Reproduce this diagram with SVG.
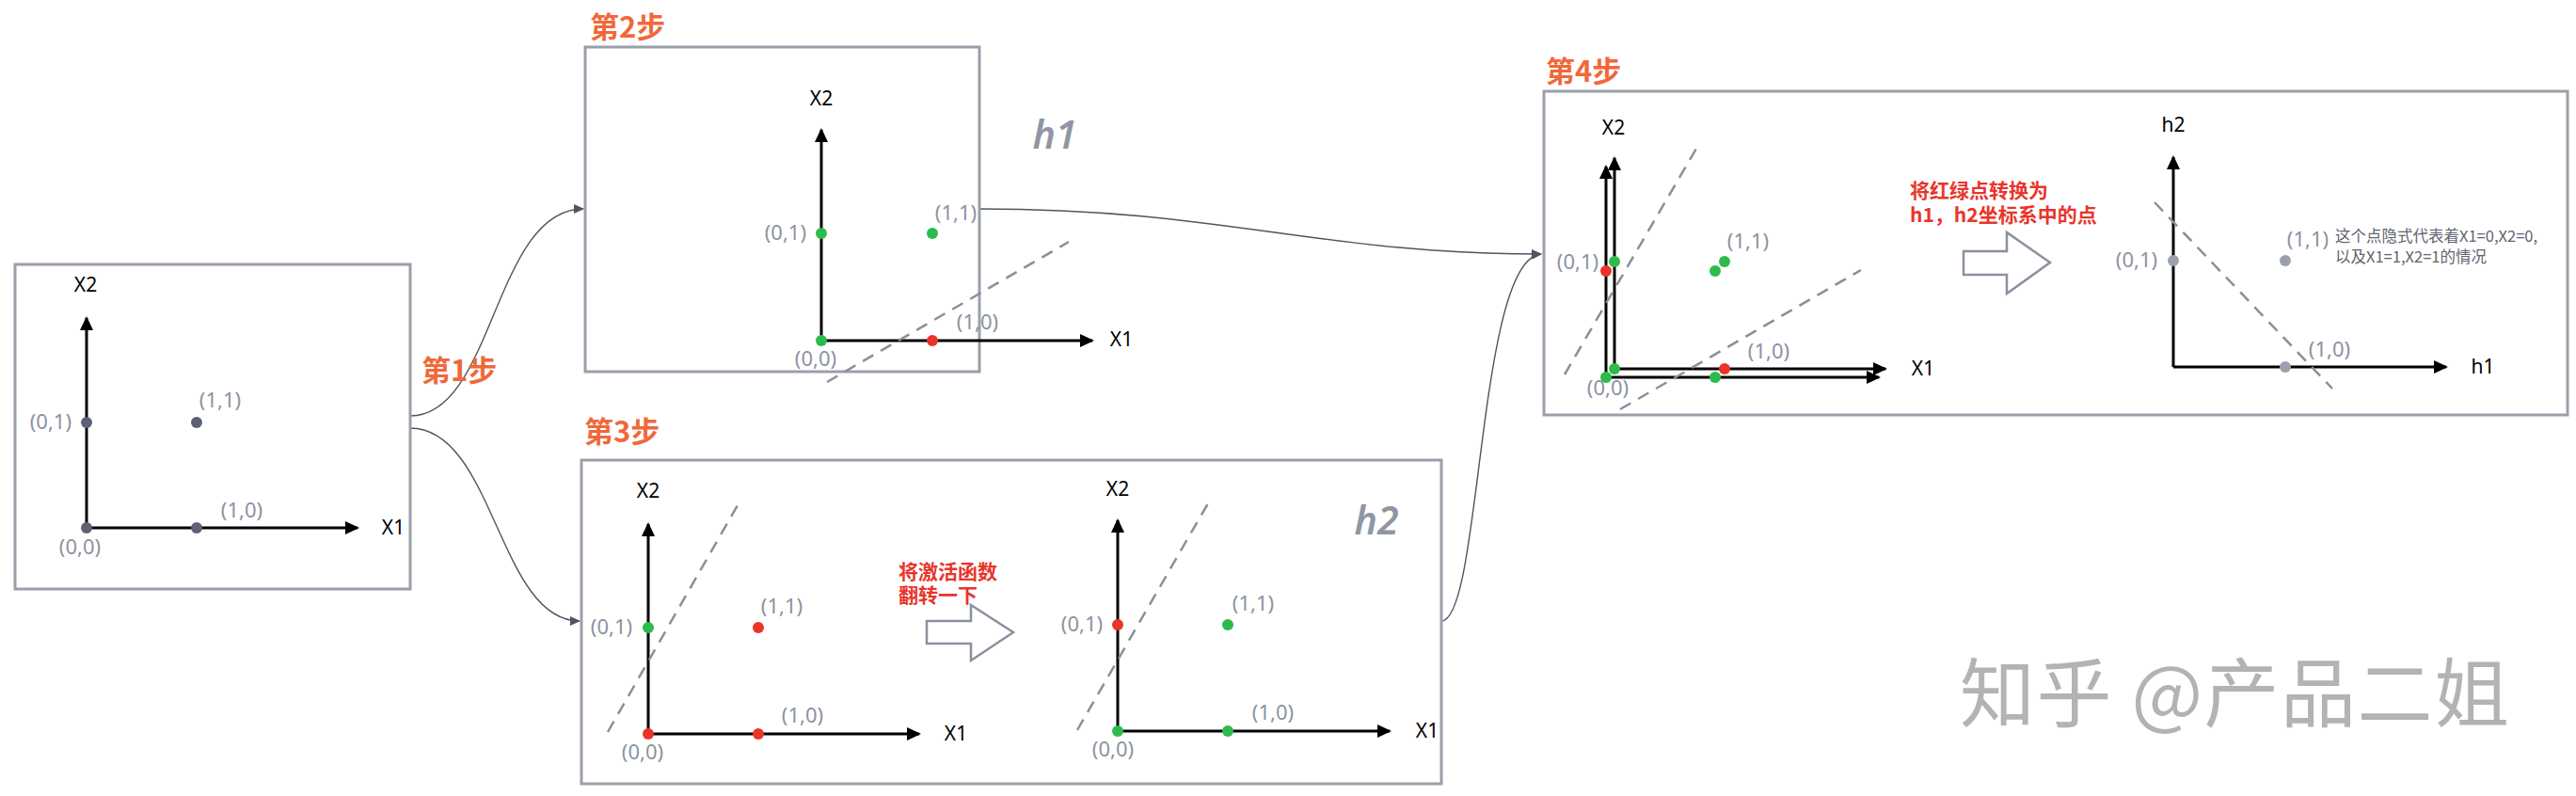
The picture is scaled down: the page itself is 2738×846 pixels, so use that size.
<svg xmlns="http://www.w3.org/2000/svg" width="2738" height="846" viewBox="0 0 2738 846">
<style>
.box{fill:#fff;stroke:#9aa0aa;stroke-width:3}
.title{font-family:"Noto Sans CJK SC",sans-serif;font-weight:bold;font-size:31px;fill:#f0683a}
.axis{stroke:#000;stroke-width:3;fill:none;marker-end:url(#ax)}
.al{font-family:"Noto Sans","Liberation Sans",sans-serif;font-size:21px;fill:#000;text-anchor:middle}
.pl{font-family:"Noto Sans","Liberation Sans",sans-serif;font-size:22px;fill:#8c93a0;text-anchor:middle}
.dash{stroke:#8a8f99;stroke-width:2.5;stroke-dasharray:13 9;fill:none}
.g{fill:#2cbb4c}.r{fill:#ea3428}.k{fill:#5c6272}.s{fill:#9ba1ac}
.red{font-family:"Noto Sans CJK SC",sans-serif;font-weight:bold;font-size:21px;fill:#e8352b}
.hl{font-family:"Noto Sans","Liberation Sans",sans-serif;font-style:italic;font-weight:600;font-size:41px;fill:#8f96a3;text-anchor:middle}
.harrow{fill:#fff;stroke:#8a919e;stroke-width:2.5;stroke-linejoin:miter}
.conn{fill:none;stroke:#4f5460;stroke-width:1.4;marker-end:url(#ca)}
</style>
<defs>
<marker id="ax" markerUnits="userSpaceOnUse" markerWidth="16" markerHeight="14" refX="13" refY="7" orient="auto"><path d="M0,0 L15,7 L0,14 z" fill="#000"/></marker>
<marker id="ca" markerUnits="userSpaceOnUse" markerWidth="11" markerHeight="10" refX="10" refY="5" orient="auto"><path d="M0,0 L11,5 L0,10 z" fill="#4f5460"/></marker>
</defs>
<rect width="2738" height="846" fill="#fff"/>

<g id="connectors">
<path class="conn" d="M436,442 C525,442 525,222 620,222"/>
<path class="conn" d="M436,455 C525,455 530,660 616,660"/>
<path class="conn" d="M1041,222 C1300,222 1400,270 1638,270"/>
<path class="conn" d="M1532,660 C1575,660 1570,275 1638,270"/>
</g>

<g id="step1">
<rect class="box" x="16" y="281" width="420" height="345"/>
<text class="title" x="448" y="405">第1步</text>
<line class="axis" x1="92" y1="561" x2="92" y2="338"/>
<line class="axis" x1="92" y1="561" x2="380" y2="561"/>
<text class="al" x="91" y="310">X2</text>
<text class="al" x="418" y="568">X1</text>
<circle class="k" cx="92" cy="561" r="6"/><circle class="k" cx="209" cy="561" r="6"/>
<circle class="k" cx="92" cy="449" r="6"/><circle class="k" cx="209" cy="449" r="6"/>
<text class="pl" x="76" y="456" text-anchor="end" style="text-anchor:end">(0,1)</text>
<text class="pl" x="234" y="433">(1,1)</text>
<text class="pl" x="257" y="550">(1,0)</text>
<text class="pl" x="85" y="589">(0,0)</text>
</g>

<g id="step2">
<rect class="box" x="622" y="50" width="419" height="345"/>
<text class="title" x="627" y="40">第2步</text>
<line class="axis" x1="873" y1="362" x2="873" y2="138"/>
<line class="axis" x1="873" y1="362" x2="1161" y2="362"/>
<text class="al" x="873" y="112">X2</text>
<text class="al" x="1192" y="368">X1</text>
<line class="dash" x1="879" y1="406" x2="1136" y2="257"/>
<circle class="g" cx="873" cy="362" r="6"/><circle class="r" cx="991" cy="362" r="6"/>
<circle class="g" cx="873" cy="248" r="6"/><circle class="g" cx="991" cy="248" r="6"/>
<text class="pl" x="857" y="255" style="text-anchor:end">(0,1)</text>
<text class="pl" x="1016" y="234">(1,1)</text>
<text class="pl" x="1039" y="350">(1,0)</text>
<text class="pl" x="867" y="389">(0,0)</text>
<text class="hl" x="1121" y="158">h1</text>
</g>

<g id="step3">
<rect class="box" x="618" y="489" width="914" height="344"/>
<text class="title" x="621" y="470">第3步</text>
<line class="axis" x1="689" y1="780" x2="689" y2="557"/>
<line class="axis" x1="689" y1="780" x2="977" y2="780"/>
<text class="al" x="689" y="529">X2</text>
<text class="al" x="1016" y="787">X1</text>
<line class="dash" x1="646" y1="778" x2="784" y2="537"/>
<circle class="r" cx="689" cy="780" r="6"/><circle class="r" cx="806" cy="780" r="6"/>
<circle class="g" cx="689" cy="667" r="6"/><circle class="r" cx="806" cy="667" r="6"/>
<text class="pl" x="650" y="674">(0,1)</text>
<text class="pl" x="831" y="652">(1,1)</text>
<text class="pl" x="853" y="768">(1,0)</text>
<text class="pl" x="683" y="807">(0,0)</text>
<polygon class="harrow" points="985,660 1032,660 1032,643 1077,672 1032,702 1032,684 985,684"/>
<text class="red" x="955" y="615">将激活函数</text>
<text class="red" x="955" y="640">翻转一下</text>
<line class="axis" x1="1188" y1="777" x2="1188" y2="553"/>
<line class="axis" x1="1188" y1="777" x2="1477" y2="777"/>
<text class="al" x="1188" y="527">X2</text>
<text class="al" x="1517" y="784">X1</text>
<line class="dash" x1="1145" y1="776" x2="1284" y2="535"/>
<circle class="g" cx="1188" cy="777" r="6"/><circle class="g" cx="1305" cy="777" r="6"/>
<circle class="r" cx="1188" cy="664" r="6"/><circle class="g" cx="1305" cy="664" r="6"/>
<text class="pl" x="1150" y="671">(0,1)</text>
<text class="pl" x="1332" y="649">(1,1)</text>
<text class="pl" x="1353" y="765">(1,0)</text>
<text class="pl" x="1183" y="804">(0,0)</text>
<text class="hl" x="1463" y="568">h2</text>
</g>

<g id="step4">
<rect class="box" x="1641" y="97" width="1088" height="344"/>
<text class="title" x="1643" y="87">第4步</text>
<line class="axis" x1="1716" y1="392" x2="1716" y2="168"/>
<line class="axis" x1="1716" y1="392" x2="2004" y2="392"/>
<line class="axis" x1="1707" y1="401" x2="1707" y2="177"/>
<line class="axis" x1="1707" y1="401" x2="1997" y2="401"/>
<text class="al" x="1715" y="143">X2</text>
<text class="al" x="2044" y="399">X1</text>
<line class="dash" x1="1663" y1="398" x2="1803" y2="158"/>
<line class="dash" x1="1722" y1="435" x2="1978" y2="287"/>
<circle class="g" cx="1716" cy="392" r="6"/><circle class="g" cx="1707" cy="401" r="6"/>
<circle class="g" cx="1823" cy="401" r="6"/><circle class="r" cx="1833" cy="392" r="6"/>
<circle class="g" cx="1716" cy="278" r="6"/><circle class="r" cx="1707" cy="288" r="6"/>
<circle class="g" cx="1833" cy="278" r="6"/><circle class="g" cx="1823" cy="288" r="6"/>
<text class="pl" x="1677" y="286">(0,1)</text>
<text class="pl" x="1858" y="264">(1,1)</text>
<text class="pl" x="1880" y="381">(1,0)</text>
<text class="pl" x="1709" y="420">(0,0)</text>
<text class="red" x="2030" y="210">将红绿点转换为</text>
<text class="red" x="2030" y="236">h1，h2坐标系中的点</text>
<polygon class="harrow" points="2087,267 2133,267 2133,247 2179,279 2133,312 2133,292 2087,292"/>
<line class="axis" x1="2310" y1="390" x2="2310" y2="167"/>
<line class="axis" x1="2310" y1="390" x2="2600" y2="390"/>
<text class="al" x="2310" y="140">h2</text>
<text class="al" x="2639" y="397">h1</text>
<line class="dash" x1="2290" y1="215" x2="2479" y2="413"/>
<circle class="s" cx="2310" cy="277" r="6"/><circle class="s" cx="2429" cy="277" r="6"/><circle class="s" cx="2429" cy="390" r="6"/>
<text class="pl" x="2271" y="284">(0,1)</text>
<text class="pl" x="2453" y="262">(1,1)</text>
<text class="pl" x="2476" y="379">(1,0)</text>
<text x="2482" y="257" font-family="Noto Sans CJK SC, sans-serif" font-size="16.5" fill="#5f6470">这个点隐式代表着X1=0,X2=0,</text>
<text x="2482" y="279" font-family="Noto Sans CJK SC, sans-serif" font-size="16.5" fill="#5f6470">以及X1=1,X2=1的情况</text>
</g>

<text id="watermark" x="2083" y="766" font-family="Noto Sans CJK SC, sans-serif" font-size="80" fill="#b3b3b3" textLength="584" lengthAdjust="spacing">知乎 @产品二姐</text>
</svg>
